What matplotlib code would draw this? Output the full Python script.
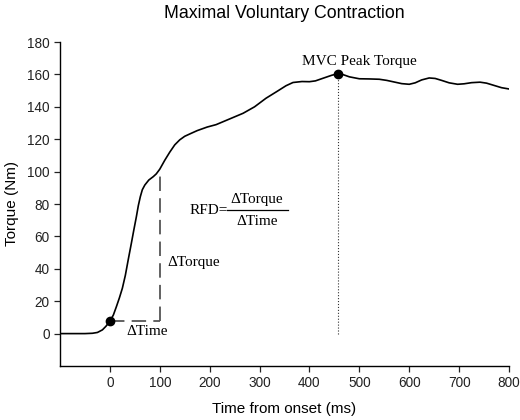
import matplotlib
matplotlib.use("Agg")
import matplotlib.pyplot as plt

# torque trace (ms, Nm)
time_ms = [-100, -50, -35, -25, -15, -8, 0, 7, 13, 19, 25, 31, 37, 43, 48,
           53, 57, 61, 65, 70, 78, 87, 93, 100, 110, 120, 130, 140, 150, 162, 175,
           195, 213, 240, 267, 290, 313, 335, 353, 367, 385, 400, 412, 427, 445,
           458, 468, 480, 500, 520, 540, 555, 567, 585, 600, 612, 625, 640, 652,
           665, 680, 697, 710, 725, 742, 755, 770, 785, 800]
torque_nm = [0, 0, 0.2, 0.7, 2.3, 4.5, 7.6, 11.5, 16.6, 22, 28, 36, 46, 55.7, 64,
             72, 79, 84.5, 88.8, 91.7, 94.8, 96.9, 98.6, 101.5, 107, 112, 116.5, 119.6, 121.8, 123.5, 125.3,
             127.5, 129, 132.5, 136, 140, 145.3, 149.5, 153, 155, 155.6, 155.5, 156, 157.6, 159.5,
             160.5, 159.8, 158.5, 157.3, 157.2, 157, 156.3, 155.5, 154.3, 153.9, 154.8, 156.6, 157.8, 157.5,
             156.3, 154.8, 153.9, 154.2, 154.9, 155.2, 154.6, 153.2, 151.8, 151]

onset_t, onset_torque = 0, 7.6
rfd_t, rfd_torque = 100, 101
peak_t, peak_torque = 458, 160.5

x_ticks = [0, 100, 200, 300, 400, 500, 600, 700, 800]
y_ticks = [0, 20, 40, 60, 80, 100, 120, 140, 160, 180]

plt.rcParams['font.family'] = ['Liberation Sans', 'DejaVu Sans']
serif = ['Liberation Serif', 'DejaVu Serif']

fig = plt.figure(figsize=(5.2, 4.2), dpi=100)
ax = fig.add_axes([60/520, 1-366/420, 449/520, 324/420])

ax.plot(time_ms, torque_nm, color='black', lw=1.2, solid_joinstyle='round')

# RFD construction
ax.plot([onset_t, rfd_t], [onset_torque, onset_torque], color='#555555', lw=1.3,
        dashes=(8, 4))
ax.plot([rfd_t, rfd_t], [onset_torque, rfd_torque], color='#555555', lw=1.3,
        dashes=(8, 4))
ax.plot([peak_t, peak_t], [0, peak_torque], color='#333333', lw=0.8, ls=':')
ax.plot([onset_t, peak_t], [onset_torque, peak_torque], 'o', color='black', ms=6)

fs = 11
ax.text(116, 44, '\u0394Torque', family=serif, fontsize=fs, ha='left', va='center')
ax.text(74, 1.5, '\u0394Time', family=serif, fontsize=fs, ha='center', va='center')
ax.text(501, 168, 'MVC Peak Torque', family=serif, fontsize=fs, ha='center', va='center')
ax.text(236, 76, 'RFD=', family=serif, fontsize=fs, ha='right', va='center')
ax.text(295, 83, '\u0394Torque', family=serif, fontsize=fs, ha='center', va='center')
ax.text(295, 69.5, '\u0394Time', family=serif, fontsize=fs, ha='center', va='center')
ax.plot([235, 357], [76.5, 76.5], color='black', lw=0.9)

ax.set_xlim(-100, 800)
ax.set_ylim(-20, 180)
ax.set_xticks(x_ticks)
ax.set_yticks(y_ticks)
ax.tick_params(labelsize=9.8, length=4, width=0.9, direction='out', colors='#222222')
for s in ['top', 'right']:
    ax.spines[s].set_visible(False)
for s in ['left', 'bottom']:
    ax.spines[s].set_linewidth(1.0)

ax.set_xlabel('Time from onset (ms)', fontsize=11, labelpad=8)
ax.set_ylabel('Torque (Nm)', fontsize=11, labelpad=6)
fig.text(284.5/520, 1-13/420, 'Maximal Voluntary Contraction', fontsize=12.8,
         ha='center', va='center')

fig.savefig('out.png', dpi=100)
